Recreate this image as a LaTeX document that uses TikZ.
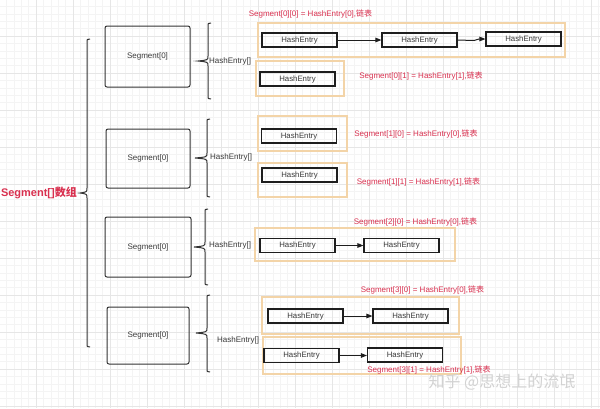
\documentclass[tikz,border=0pt]{standalone}
\usepackage{fontspec}
\setmainfont{Liberation Sans}
\newfontfamily\cjk{Noto Sans CJK SC}
\usetikzlibrary{arrows.meta}
\definecolor{redlab}{HTML}{D9304F}
\definecolor{orangebox}{HTML}{F3D4A8}
\definecolor{gridminor}{HTML}{F4F4F4}
\definecolor{gridmajor}{HTML}{E6E6E6}
\definecolor{segline}{HTML}{333333}
\definecolor{heline}{HTML}{1E1E1E}
\definecolor{txt}{HTML}{3A3A3A}
\definecolor{wm}{HTML}{D2D2D2}
\tikzset{
  segbox/.style={draw=segline, line width=1pt, rounded corners=2pt, inner sep=0pt,
    font=\fontsize{8}{9}\selectfont, text=txt},
  hebox/.style={draw=heline, line width=1.1pt, inner sep=0pt, minimum width=75pt,
    minimum height=14pt, font=\fontsize{7.8}{9}\selectfont, text=txt},
  contbox/.style={draw=orangebox, line width=1.3pt, inner sep=0pt},
  redlabel/.style={text=redlab, inner sep=0pt, font=\fontsize{8}{9}\selectfont},
  arrlabel/.style={text=txt, inner sep=0pt, anchor=west, font=\fontsize{8}{9}\selectfont},
  bracestyle/.style={draw=segline, line width=1pt},
  arr/.style={draw=heline, line width=1pt, -{Triangle[length=6pt,width=4.5pt]}}
}
\newcommand\mybrace[5]{%
  \draw[bracestyle] (#1+3,#2) .. controls (#1,#2) .. (#1,#2+4) -- (#1,#3-5)
    .. controls (#1,#3-1) .. (#5,#3) .. controls (#1,#3+1) .. (#1,#3+5)
    -- (#1,#4-4) .. controls (#1,#4) .. (#1+3,#4);}
\begin{document}
\begin{tikzpicture}[x=1pt,y=-1pt]
\useasboundingbox (0,0) rectangle (600,408);
\fill[white] (0,0) rectangle (600,408);
% grid
\foreach \i in {0,...,82} {
  \draw[gridminor, line width=0.4pt] (\i*7.4-1,0) -- (\i*7.4-1,408);
}
\foreach \i in {0,...,56} {
  \draw[gridminor, line width=0.4pt] (0,\i*7.4-1) -- (600,\i*7.4-1);
}
\foreach \i in {0,...,16} {
  \draw[gridmajor, line width=0.5pt] (\i*37-1,0) -- (\i*37-1,408);
}
\foreach \i in {0,...,11} {
  \draw[gridmajor, line width=0.5pt] (0,\i*37-1) -- (600,\i*37-1);
}

% big label and brace
\node[anchor=east, inner sep=0pt, text=redlab, font=\fontsize{11}{13}\selectfont\bfseries] (title) at (77,193) {Segment[]{\cjk 数组}};
\mybrace{87}{39}{193}{347}{80}

% segment boxes
\node[segbox, minimum width=85pt, minimum height=61pt] (s1) at (147.5,56.5) {Segment[0]};
\node[segbox, minimum width=84pt, minimum height=59pt] (s2) at (148,158.5) {Segment[0]};
\node[segbox, minimum width=86pt, minimum height=60pt] (s3) at (148,247) {Segment[0]};
\node[segbox, minimum width=82pt, minimum height=57pt] (s4) at (148,335.5) {Segment[0]};

% braces to HashEntry[]
\mybrace{208}{23}{61}{99}{198}
\mybrace{207}{119}{158}{197}{195}
\mybrace{205}{209}{247}{285}{194}
\mybrace{207}{295}{333}{372}{196}
\node[arrlabel] (t1) at (209,61) {HashEntry[]};
\node[arrlabel] (t2) at (210,157) {HashEntry[]};
\node[arrlabel] (t3) at (209,245) {HashEntry[]};
\node[arrlabel] (t4) at (217,340) {HashEntry[]};

% containers
\node[contbox, minimum width=307pt, minimum height=34pt] (c00) at (411.5,40) {};
\node[contbox, minimum width=88pt, minimum height=35pt] (c01) at (300,78.5) {};
\node[contbox, minimum width=89pt, minimum height=35pt] (c10) at (302.5,133.5) {};
\node[contbox, minimum width=89pt, minimum height=34pt] (c11) at (302.5,180) {};
\node[contbox, minimum width=200pt, minimum height=33pt] (c20) at (355,244.5) {};
\node[contbox, minimum width=197pt, minimum height=37pt] (c30) at (360.5,315.5) {};
\node[contbox, minimum width=198pt, minimum height=37pt] (c31) at (362,355.5) {};

% hash entries
\node[hebox] (h00a) at (299.5,40) {HashEntry};
\node[hebox] (h00b) at (419.5,40) {HashEntry};
\node[hebox] (h00c) at (523.5,39) {HashEntry};
\node[hebox] (h01) at (297.5,79) {HashEntry};
\node[hebox] (h10) at (299,136) {HashEntry};
\node[hebox] (h11) at (299.5,175) {HashEntry};
\node[hebox] (h20a) at (297.5,245.5) {HashEntry};
\node[hebox] (h20b) at (401.5,245.5) {HashEntry};
\node[hebox] (h30a) at (305.5,316) {HashEntry};
\node[hebox] (h30b) at (410.5,316) {HashEntry};
\node[hebox] (h31a) at (301.5,355.5) {HashEntry};
\node[hebox] (h31b) at (405,355) {HashEntry};

% arrows
\coordinate (j1) at (474,40.5);
\coordinate (j2) at (479,39);
\draw[arr] (h00a.east) -- (h00b.west);
\draw[arr] (h00b.east) -- (j1) -- (j2) -- (h00c.west);
\draw[arr] (h20a.east) -- (h20b.west);
\draw[arr] (h30a.east) -- (h30b.west);
\draw[arr] (h31a.east) -- (h31b.west |- h31a.east);

% red labels
\node[redlabel] (l00) at (310.5,14) {Segment[0][0] = HashEntry[0],{\cjk 链表}};
\node[redlabel] (l01) at (421,76) {Segment[0][1] = HashEntry[1],{\cjk 链表}};
\node[redlabel] (l10) at (416,134) {Segment[1][0] = HashEntry[0],{\cjk 链表}};
\node[redlabel] (l11) at (418.5,182) {Segment[1][1] = HashEntry[1],{\cjk 链表}};
\node[redlabel] (l20) at (415.5,222) {Segment[2][0] = HashEntry[0],{\cjk 链表}};
\node[redlabel] (l30) at (422.5,290) {Segment[3][0] = HashEntry[0],{\cjk 链表}};
\node[redlabel] (l31) at (429,370) {Segment[3][1] = HashEntry[1],{\cjk 链表}};

% watermark
\node[text=wm, inner sep=0pt, font=\cjk\fontsize{16}{18}\selectfont] (wm) at (502,382) {知乎 @思想上的流氓};
\end{tikzpicture}
\end{document}
